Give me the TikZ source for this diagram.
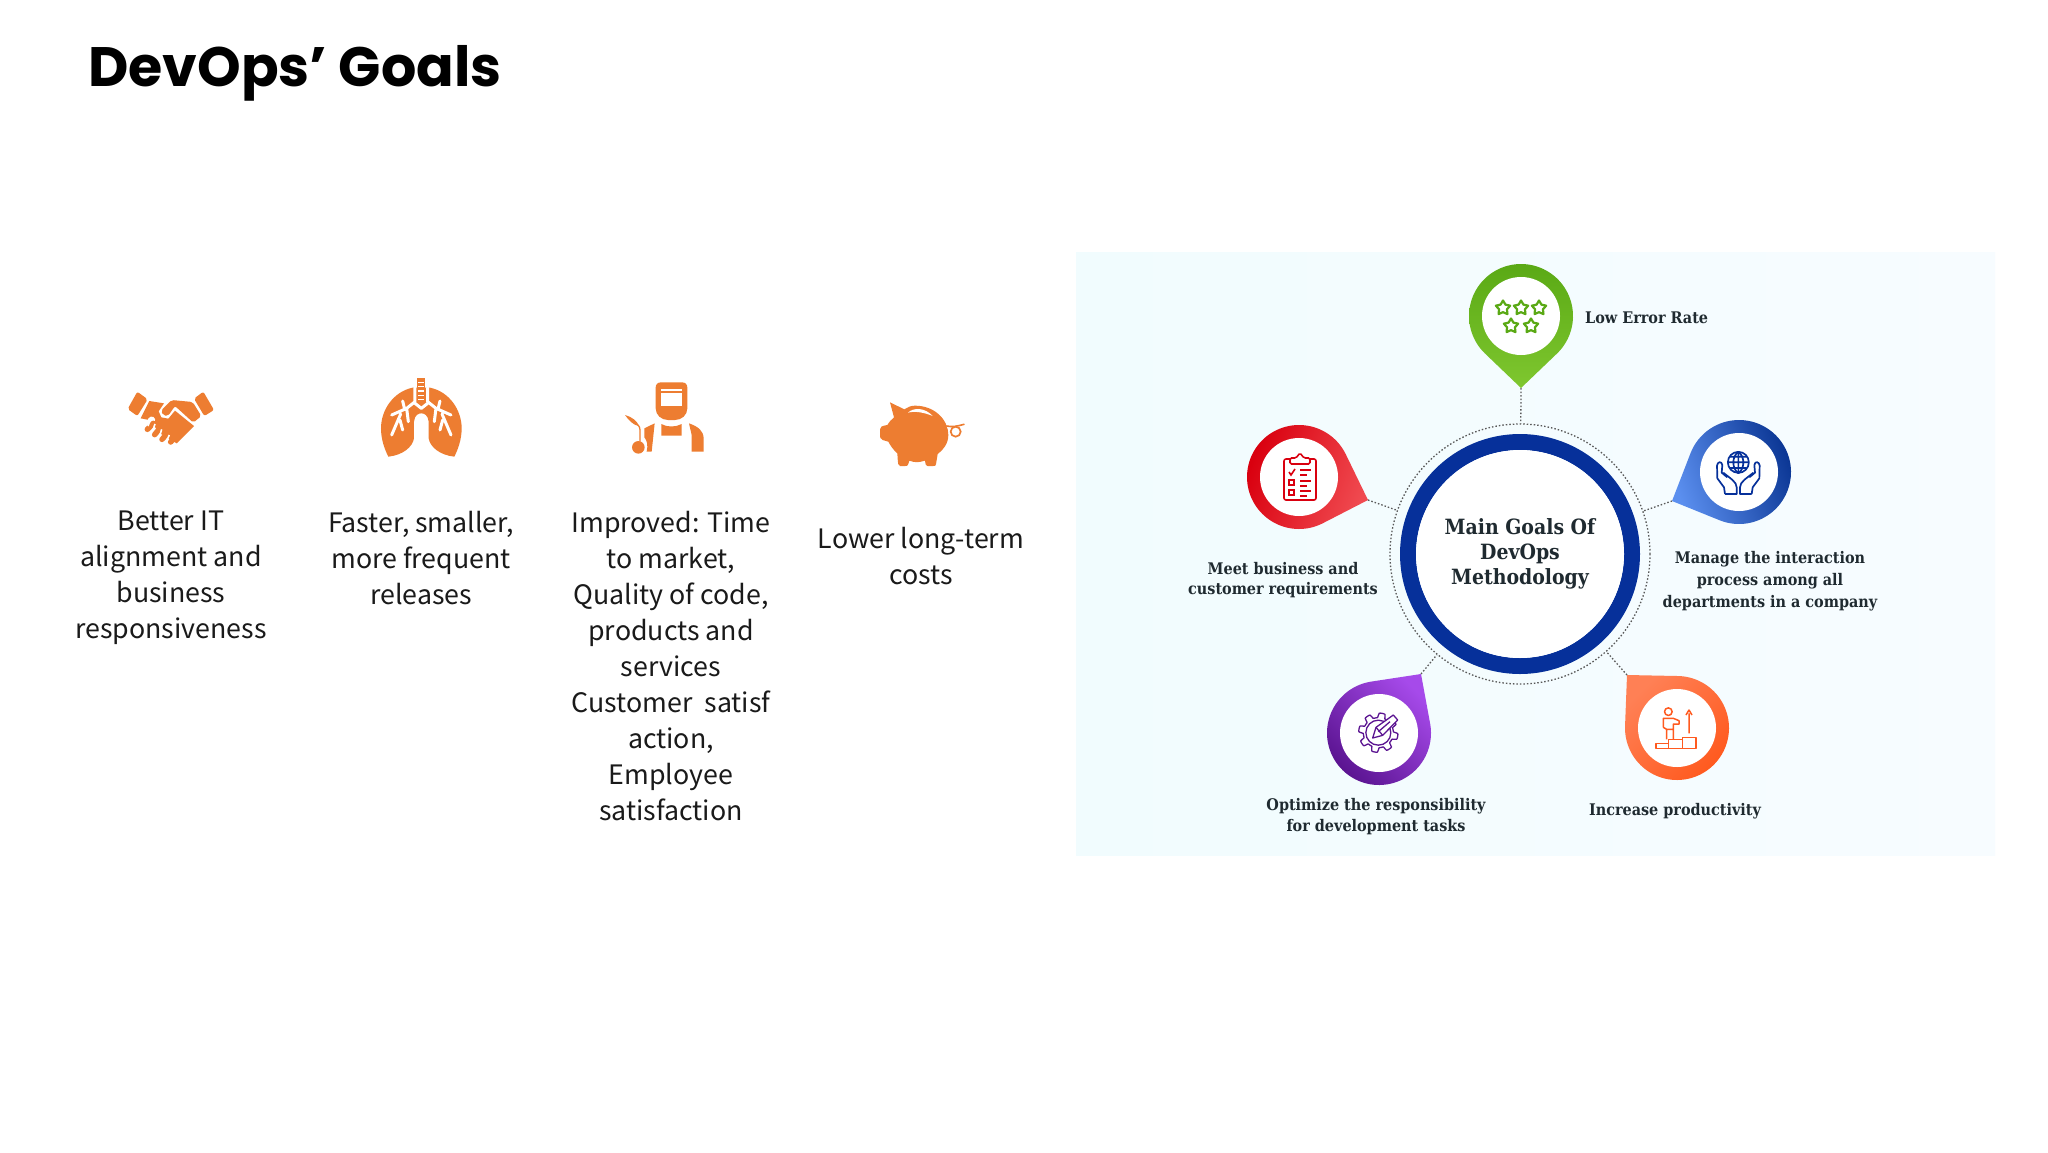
\documentclass[tikz,border=0pt]{standalone}
\usepackage{fontspec}
\usetikzlibrary{shapes.geometric}
\setmainfont{Noto Sans CJK SC}
\newfontfamily\titlefont{Poppins}
\newfontfamily\panelfont{DejaVu Serif Condensed}
\definecolor{iconorange}{HTML}{ED7D31}
\definecolor{ringblue}{HTML}{06309A}
\definecolor{labelink}{HTML}{1F2A30}
\definecolor{bodyink}{HTML}{1A1A1A}
\definecolor{panelL}{HTML}{F1FCFE}
\definecolor{panelR}{HTML}{F7FCFF}
\definecolor{gA}{HTML}{5AA915}\definecolor{gB}{HTML}{7FC72F}
\definecolor{rA}{HTML}{F04A50}\definecolor{rB}{HTML}{D9000F}
\definecolor{bA}{HTML}{5B8FEF}\definecolor{bB}{HTML}{0C3795}
\definecolor{oA}{HTML}{FF8055}\definecolor{oB}{HTML}{FF5A1F}
\definecolor{pA}{HTML}{A64AEA}\definecolor{pB}{HTML}{5B1491}
\tikzset{
  titletext/.style={anchor=west,inner sep=0,font=\titlefont\bfseries\fontsize{55.5}{60}\selectfont,text=black},
  bodytext/.style={align=center,inner sep=0,anchor=north,text=bodyink,font=\fontsize{26.75}{36}\selectfont},
  plabel/.style args={#1}{align=center,inner sep=0,text=labelink,font=\panelfont\bfseries\fontsize{16}{#1}\selectfont},
  dotlink/.style={draw=black!65,line width=1.3pt,dash pattern=on 1.5pt off 2pt},
  whiteline/.style={draw=white,line width=3pt,line cap=round,line join=round},
  zoomed/.style 2 args={shift={(#1,#2)},x=0.33333pt,y=-0.33333pt},
}
% \pin{name}{cx}{cy}{tx}{ty}{shading options}
\newcommand{\pin}[6]{%
  \pgfmathsetmacro{\pang}{atan2(#5-#3,#4-#2)}%
  \pgfmathsetmacro{\pdist}{veclen(#5-#3,#4-#2)}%
  \pgfmathsetmacro{\pbeta}{acos(52/\pdist)}%
  \pgfmathsetmacro{\pfrom}{\pang+\pbeta}%
  \pgfmathsetmacro{\pto}{\pang+360-\pbeta}%
  \coordinate (#1) at (#4,#5);
  \path[#6] plot[domain=\pfrom:\pto,samples=80,variable=\t] ({#2+52*cos(\t)},{#3+52*sin(\t)}) -- (#1) -- cycle;
  \fill[white] (#2,#3) circle[radius=39pt];
}
\begin{document}
\begin{tikzpicture}[x=1pt,y=-1pt]
\useasboundingbox (0,0) rectangle (2048,1152);
\fill[white] (0,0) rectangle (2048,1152);
\node[titletext] (title) at (88,73.5) {DevOps’ Goals};

% ---- icons ----
\begin{scope}[zoomed={60}{340}]
 % handshake
 \fill[iconorange,rounded corners=2pt] (232,155)--(263,178)--(232,228)--(203,207)--cycle;
 \fill[iconorange,rounded corners=2pt] (430,155)--(462,210)--(433,228)--(402,176)--cycle;
 \fill[iconorange] (268,183)--(312,190)--(296,214)--(304,232)--(325,236)--(345,212)--(402,258)--(350,310)--(300,280)--(268,240)--(242,235)--cycle;
 \fill[iconorange,rounded corners=2pt] (335,180)--(398,186)--(424,228)--(400,248)--(345,198)--(324,228)--(310,226)--(303,212)--cycle;
 \draw[white,line width=7pt,line cap=round] (256,262)--(290,290) (275,240)--(262,262);
 \draw[iconorange,line width=5.5pt,line cap=round] (262,268)--(280,250) (284,284)--(302,262) (306,298)--(324,278) (332,306)--(346,290);
 \draw[white,line width=1.6pt] (270,242)--(264,258) (285,252)--(278,272) (305,268)--(298,292) (328,285)--(320,302);
 % lungs
 \fill[iconorange] (1058,143) .. controls (1000,155) and (963,210) .. (963,265) .. controls (963,300) and (975,330) .. (985,350) .. controls (1030,345) and (1058,320) .. (1062,295) -- (1062,245) .. controls (1064,225) and (1075,220) .. (1084,220) .. controls (1093,220) and (1104,225) .. (1106,245) -- (1106,295) .. controls (1110,320) and (1138,345) .. (1183,350) .. controls (1193,330) and (1205,300) .. (1205,265) .. controls (1205,210) and (1168,155) .. (1110,143) -- cycle;
 \fill[iconorange] (1072,115) rectangle (1095,185);
 \draw[white,line width=1.3pt] (1075,127)--(1092,127) (1075,140)--(1092,140) (1075,153)--(1092,153) (1075,166)--(1092,166) (1075,178)--(1092,178);
 \draw[whiteline] (1065,143)--(1065,185)--(1040,205)--(995,225) (1028,183)--(1034,208) (1040,205)--(1045,245) (1022,222)--(995,285) (1020,240)--(1028,270);
 \draw[whiteline] (1103,143)--(1103,185)--(1128,205)--(1173,225) (1140,183)--(1134,208) (1128,205)--(1123,245) (1146,222)--(1173,285) (1148,240)--(1140,270);
 \draw[whiteline] (1065,190)--(1084,205)--(1103,190);
\end{scope}
\begin{scope}[zoomed={560}{340}]
 % welder
 \fill[iconorange] (303,127)--(366,127) .. controls (376,127) and (382,133) .. (382,143) -- (382,205) .. controls (382,225) and (365,240) .. (345,240) -- (324,240) .. controls (304,240) and (287,225) .. (287,205) -- (287,143) .. controls (287,133) and (293,127) .. (303,127) -- cycle;
 \fill[white] (303,160) rectangle (365,197);
 \fill[white] (303,147) rectangle (365,152);
 \fill[iconorange] (304,252) .. controls (320,262) and (348,262) .. (365,252) -- (365,287) -- (304,287) -- cycle;
 \fill[iconorange] (387,250) .. controls (415,260) and (430,272) .. (431,295) -- (431,335) -- (395,335) -- (395,285) -- cycle;
 \fill[iconorange] (253,265) -- (284,250) -- (275,335) -- (260,335) .. controls (265,315) and (260,300) .. (253,292) -- cycle;
 \fill[iconorange] (235,322) circle[radius=6.3pt];
 \draw[iconorange,line width=1.3pt] (240,305) -- (240,270) .. controls (240,258) and (232,252) .. (222,245);
 \fill[iconorange] (195,225) .. controls (215,230) and (235,245) .. (235,258) .. controls (220,255) and (205,240) .. (195,225) -- cycle;
 % pig
 \fill[iconorange] (1065,197) .. controls (1125,197) and (1165,240) .. (1165,285) .. controls (1165,310) and (1150,330) .. (1133,342) -- (1128,372) .. controls (1127,378) and (1125,378) .. (1120,378) -- (1103,378) .. controls (1098,378) and (1097,375) .. (1095,362) .. controls (1075,368) and (1065,368) .. (1048,362) -- (1045,372) .. controls (1043,378) and (1040,378) .. (1036,378) -- (1020,378) .. controls (1015,378) and (1014,375) .. (1012,340) .. controls (1000,330) and (990,315) .. (985,305) -- (968,300) .. controls (960,296) and (960,292) .. (960,285) -- (960,268) .. controls (960,260) and (965,258) .. (982,255) .. controls (988,245) and (995,238) .. (1002,232) -- (990,187) -- (1033,208) .. controls (1042,202) and (1052,197) .. (1065,197) -- cycle;
 \fill[white] (1044,218) .. controls (1060,202) and (1095,202) .. (1118,228) .. controls (1095,218) and (1065,212) .. (1044,218) -- cycle;
 \draw[iconorange,line width=1.6pt,line cap=round] (1160,258) .. controls (1175,262) and (1195,258) .. (1212,253);
 \draw[iconorange,line width=1.7pt] (1187,275) circle[radius=5pt];
\end{scope}

% ---- body text ----
\node[bodytext] (col1) at (171,511) {Better IT\\alignment and\\business\\responsiveness};
\node[bodytext] (col2) at (421,511) {Faster, smaller,\\more frequent\\releases};
\node[bodytext] (col3) at (671,511) {Improved: Time\\to market,\\Quality of code,\\products and\\services\\Customer\ \ satisf\\action,\\Employee\\satisfaction};
\node[bodytext] (col4) at (921,527) {Lower long-term\\costs};

% ---- panel ----
\shade[left color=panelL,right color=panelR] (1076,252) rectangle (1995,855);

\draw[ringblue,line width=16pt] (1520,554) circle[radius=112pt];
\fill[white] (1520,554) circle[radius=104pt];
\node[circle,minimum size=260pt,inner sep=0,dotlink,align=center,text=labelink,font=\panelfont\bfseries\fontsize{21}{25}\selectfont] (hub) at (1520,554) {Main Goals Of\\DevOps\\Methodology};

\pin{tipG}{1521}{316}{1521}{388}{top color=gA,bottom color=gB}
\pin{tipR}{1299}{477}{1368}{500}{top color=rA,bottom color=rB,shading angle=250}
\pin{tipB}{1739}{472}{1672}{501}{top color=bA,bottom color=bB,shading angle=110}
\pin{tipO}{1677}{728}{1627}{675}{top color=oA,bottom color=oB,shading angle=45}
\pin{tipP}{1379}{733}{1421}{674}{top color=pA,bottom color=pB,shading angle=-45}

\draw[dotlink] (tipG) -- (hub);
\draw[dotlink] (tipR) -- (hub);
\draw[dotlink] (tipB) -- (hub);
\draw[dotlink] (tipO) -- (hub);
\draw[dotlink] (tipP) -- (hub);

% stars
\foreach \i/\sx/\sy in {1/1503/308,2/1521/308,3/1539/308,4/1511/326,5/1531/326}
  \node[star,star points=5,star point ratio=1.8,minimum size=15pt,inner sep=0,draw=gA,line width=2.2pt,line join=round] (star\i) at (\sx,\sy) {};

% clipboard
\begin{scope}[draw=rB,line width=1.6pt]
 \draw[rounded corners=2pt] (1284,459) rectangle (1316,500);
 \draw[fill=white,rounded corners=1.5pt] (1290,464) -- (1290,458) -- (1296,458) -- (1300,453) -- (1304,458) -- (1310,458) -- (1310,464) -- cycle;
 \draw (1289,472)--(1291,475)--(1295,469);
 \draw (1289,480) rectangle (1294,485) (1289,490) rectangle (1294,495);
 \draw (1300,470)--(1311,470) (1300,475)--(1307,475) (1300,481)--(1311,481) (1300,486)--(1307,486) (1300,491)--(1311,491) (1300,496)--(1307,496);
\end{scope}

% hands and globe
\begin{scope}[zoomed={1640}{400},draw=ringblue,line width=1.7pt,line join=round]
 \draw (295,187) circle[radius=10.5pt];
 \draw (295,155) .. controls (275,170) and (275,205) .. (295,220) .. controls (315,205) and (315,170) .. (295,155) (295,155)--(295,220) (264,187)--(326,187) (270,170)--(320,170) (270,204)--(320,204);
 \draw (255,282)--(290,282)--(290,262) .. controls (290,245) and (270,235) .. (250,218) (262,232) -- (245,218) -- (247,195) .. controls (245,182) and (232,185) .. (231,197) -- (232,235) -- (252,262) -- (255,282);
 \draw (335,282)--(300,282)--(300,262) .. controls (300,245) and (320,235) .. (340,218) (328,232) -- (345,218) -- (343,195) .. controls (345,182) and (358,185) .. (359,197) -- (358,235) -- (338,262) -- (335,282);
\end{scope}

% gear and pencil
\begin{scope}[zoomed={1300}{650},draw=pB,line width=1.3pt,line join=round]
 \draw plot[domain=0:360,samples=145,variable=\t] ({235+(52+7*tanh(4*sin(8*\t)))*cos(\t)},{248+(52+7*tanh(4*sin(8*\t)))*sin(\t)}) -- cycle;
 \draw (235,248) circle[radius=12.5pt];
 \draw[fill=white] (218,264) -- (228,232) -- (280,195) -- (293,210) -- (248,256) -- cycle;
 \draw (228,232)--(248,256) (235,245)--(270,215);
\end{scope}

% person on steps
\begin{scope}[zoomed={1300}{650},draw=oB,line width=1.5pt,line join=round]
 \draw (1105,185) circle[radius=3.8pt];
 \draw (1090,232)--(1090,205)--(1120,205)--(1137,212)--(1137,222)--(1120,222)--(1120,268) (1100,268)--(1100,238)--(1090,232) (1100,238)--(1120,238);
 \draw (1068,295) rectangle (1105,280) (1105,295) rectangle (1148,268) (1148,295) rectangle (1188,262);
 \draw (1167,250)--(1167,190) (1158,195)--(1167,180)--(1176,195);
\end{scope}

% panel labels
\node[plabel={20},anchor=west] (lblG) at (1585,318) {Low Error Rate};
\node[plabel={20}] (lblR) at (1283,580) {Meet business and\\customer requirements};
\node[plabel={22}] (lblB) at (1770,581) {Manage the interaction\\process among all\\departments in a company};
\node[plabel={21}] (lblP) at (1376,817) {Optimize the responsibility\\for development tasks};
\node[plabel={20}] (lblO) at (1675,811) {Increase productivity};
\end{tikzpicture}
\end{document}
